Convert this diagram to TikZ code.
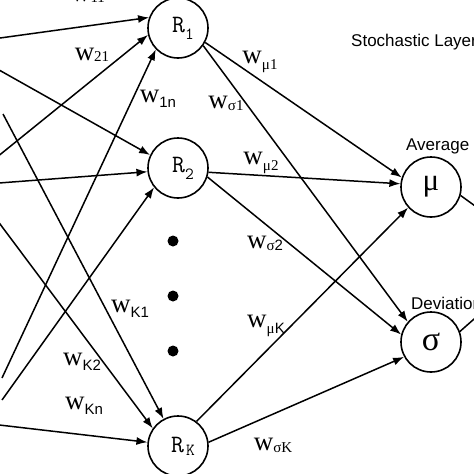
\documentclass[tikz,border=0pt]{standalone}
\usepackage{fontspec}
\setmainfont{Liberation Serif}
\setsansfont{Liberation Sans}
\usetikzlibrary{arrows.meta}
\newcommand{\wsub}[2]{w\raisebox{#1}{\fontsize{15}{15}\selectfont #2}}
\begin{document}
\begin{tikzpicture}[x=1pt,y=-1pt,
  neuron/.style={draw,circle,line width=1.6pt,minimum size=60pt,inner sep=0pt},
  conn/.style={line width=1.5pt,-{Latex[length=11pt,width=8pt]}},
  plainline/.style={line width=1.5pt},
  wlab/.style={inner sep=0pt,font=\fontsize{27}{27}\selectfont},
  side/.style={inner sep=0pt,anchor=base west,font=\sffamily\fontsize{17}{17}\selectfont},
  dotnode/.style={circle,fill=black,inner sep=0pt,minimum size=11pt}]
\useasboundingbox (0,0) rectangle (474,474);
\clip (0,0) rectangle (474,474);
\node[neuron] (R1) at (178,28) {\hspace{10pt}\ttfamily\fontsize{25}{25}\selectfont R\raisebox{-7pt}{\fontsize{17}{17}\selectfont 1}};
\node[neuron] (R2) at (178,168) {\hspace{10pt}\ttfamily\fontsize{25}{25}\selectfont R\raisebox{-7pt}{\fontsize{17}{17}\selectfont 2}};
\node[neuron] (RK) at (178,446) {\hspace{10pt}\ttfamily\fontsize{25}{25}\selectfont R\hspace{2pt}\raisebox{-3pt}{\fontsize{17}{17}\selectfont K}};
\node[dotnode] (d1) at (173,241) {};
\node[dotnode] (d2) at (173,296) {};
\node[dotnode] (d3) at (173,351) {};
\node[neuron] (mu) at (431,187) {\fontsize{31}{31}\selectfont μ};
\node[neuron] (sigma) at (431,342) {\fontsize{34}{34}\selectfont σ};
\coordinate (a) at (-5,38.7);
\coordinate (b) at (-5,67.7);
\coordinate (c) at (3,114);
\coordinate (d) at (-5,158.7);
\coordinate (e) at (-5,183.3);
\coordinate (f) at (-5,217.3);
\coordinate (g) at (2,378);
\coordinate (h) at (2,400);
\coordinate (i) at (-5,424.5);
\coordinate (muout) at (482,211);
\coordinate (sigout) at (482,312);
\draw[conn] (a) -- (R1.160);
\draw[conn] (d) -- (R1.193);
\draw[conn] (g) -- (R1.224);
\draw[conn] (b) -- (R2.155);
\draw[conn] (e) -- (R2.187);
\draw[conn] (h) -- (R2.219);
\draw[conn] (c) -- (RK.118);
\draw[conn] (f) -- (RK.145);
\draw[conn] (i) -- (RK.173);
\draw[conn] (R1.-28) -- (mu.162);
\draw[conn] (R1.-35) -- (sigma.139);
\draw[conn] (R2.-8) -- (mu.174);
\draw[conn] (R2.-17) -- (sigma.166);
\draw[conn] (RK.53) -- (mu.222);
\draw[conn] (RK.7) -- (sigma.209);
\draw[plainline] (mu.-16) -- (muout);
\draw[plainline] (sigma.20) -- (sigout);
\node[wlab] (l11) at (88,-4) {\wsub{-1pt}{11}};
\node[wlab] (l21) at (92,55) {\wsub{-1pt}{21}};
\node[wlab] (l1n) at (158,99) {\wsub{-5pt}{\sffamily 1n}};
\node[wlab] (ls1) at (226,103) {\wsub{-2pt}{σ1}};
\node[wlab] (lm1) at (260,62) {\wsub{-6pt}{μ1}};
\node[wlab] (lm2) at (261,163) {\wsub{-6pt}{μ2}};
\node[wlab] (ls2) at (265,243) {\wsub{-2pt}{σ{\sffamily 2}}};
\node[wlab] (lmK) at (266,326) {\wsub{-6pt}{μ{\sffamily K}}};
\node[wlab] (lsK) at (273,445) {\wsub{-2pt}{σK}};
\node[wlab] (lK1) at (130,309) {\wsub{-5pt}{\sffamily K1}};
\node[wlab] (lK2) at (82,362) {\wsub{-5pt}{\sffamily K2}};
\node[wlab] (lKn) at (84,406) {\wsub{-5pt}{\sffamily Kn}};
\node[side] (stoch) at (351,46.5) {Stochastic Layer};
\node[side] (avg) at (406,150) {Average};
\node[side] (dev) at (411,309) {Deviation};
\end{tikzpicture}
\end{document}
